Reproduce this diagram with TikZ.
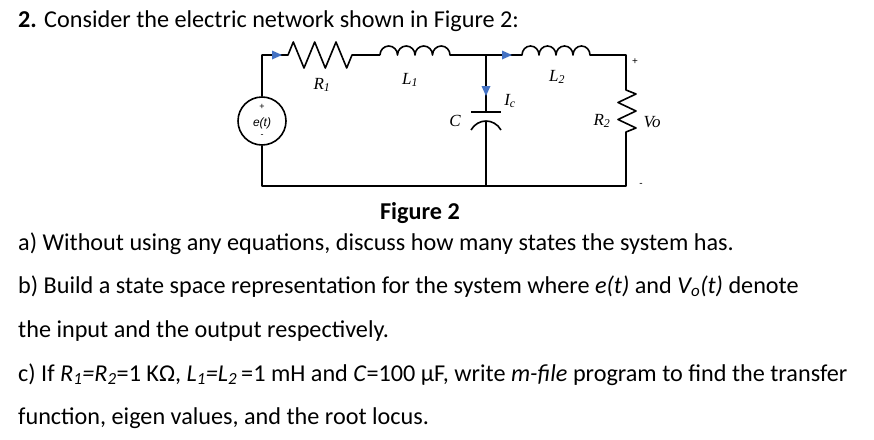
\documentclass[tikz,border=0pt]{standalone}
\usepackage{fontspec}
\setmainfont{Carlito}
\newfontfamily\serifit{Liberation Serif}
\newfontfamily\arialf{Liberation Sans}
\usetikzlibrary{arrows.meta}
\begin{document}
\begin{tikzpicture}[x=1pt,y=-1pt,
  wire/.style={line width=1.6pt,line join=round},
  txt/.style={anchor=base west,inner sep=0pt,font=\fontsize{24.2}{28}\selectfont},
  lbl/.style={inner sep=0pt,font=\serifit\itshape\fontsize{17}{19}\selectfont}]
\useasboundingbox (0,0) rectangle (874,439);
\fill[white] (0,0) rectangle (874,439);
\definecolor{arrb}{RGB}{68,114,196}
\coordinate (tl) at (262,55); \coordinate (bl) at (262,186);
\coordinate (tm) at (486,55); \coordinate (bm) at (486,186);
\coordinate (tr) at (626,55); \coordinate (br) at (626,186);
\node[circle,draw,line width=1.6pt,minimum size=48pt,inner sep=0pt] (src) at (262,121) {};
\node[font=\arialf\itshape\fontsize{12}{14}\selectfont] (et) at (262,123) {e(t)};
\node[font=\arialf\fontsize{9}{10}\selectfont] (sp) at (262,107) {+};
\node[font=\arialf\fontsize{9}{10}\selectfont] (sm) at (262,136) {-};
\draw[wire] (src.north) -- (tl) -- (288,55)
  -- (293.3,42) -- (304,68) -- (314.7,42) -- (325.3,68) -- (336,42) -- (346.7,68) -- (352,55)
  -- (380,55);
\draw[wire] (380,55) \foreach \i in {1,...,4}{ arc(180:360:8.75 and 9) } -- (tm) -- (486,112);
\draw[wire] (471,112) -- (501,112);
\draw[wire] (471,130) .. controls (478,118) and (494,118) .. (501,130);
\draw[wire] (486,121) -- (bm);
\draw[wire] (tm) -- (522,55) \foreach \i in {1,...,4}{ arc(180:360:8.5 and 9) } -- (tr) -- (626,90)
  -- (636,94) -- (618,102.5) -- (636,111) -- (618,119.5) -- (636,128) -- (626,132) -- (626,140) -- (br) -- (bl) -- (src.south);
\fill[arrb] (282,55) -- (272,50.5) -- (272,59.5) -- cycle;
\fill[arrb] (512,55) -- (502,50.5) -- (502,59.5) -- cycle;
\fill[arrb] (486,96) -- (481.5,86) -- (490.5,86) -- cycle;
\node[lbl] (r1) at (322,85) {R\textsubscript{1}};
\node[lbl] (l1) at (410,80) {L\textsubscript{1}};
\node[lbl] (l2) at (557,77) {L\textsubscript{2}};
\node[lbl] (ic) at (510,101) {I\textsubscript{c}};
\node[lbl] (c) at (455,121) {C};
\node[lbl] (r2) at (602,121) {R\textsubscript{2}};
\node[lbl] (vo) at (652,122) {Vo};
\node[font=\arialf\fontsize{10}{11}\selectfont] (pl) at (635,62) {+};
\node[font=\arialf\fontsize{10}{11}\selectfont] (mi) at (641,185) {-};
\node[txt] (t0) at (18,27) {\textbf{2.} Consider the electric network shown in Figure 2:};
\node[txt,anchor=base] (fig) at (420,219) {\textbf{Figure 2}};
\node[txt] (ta) at (18,250) {a) Without using any equations, discuss how many states the system has.};
\node[txt] (tb) at (18,293) {b) Build a state space representation for the system where \textit{e(t)} and \textit{V\textsubscript{o}(t)} denote};
\node[txt] (tb2) at (18,337) {the input and the output respectively.};
\node[txt] (tc) at (18,381) {c) If \textit{R\textsubscript{1}=R\textsubscript{2}}=1 KΩ, \textit{L\textsubscript{1}=L\textsubscript{2}}\,=1 mH and \textit{C}=100 µF, write \textit{m-file} program to find the transfer};
\node[txt] (tc2) at (18,424) {function, eigen values, and the root locus.};
\end{tikzpicture}
\end{document}
